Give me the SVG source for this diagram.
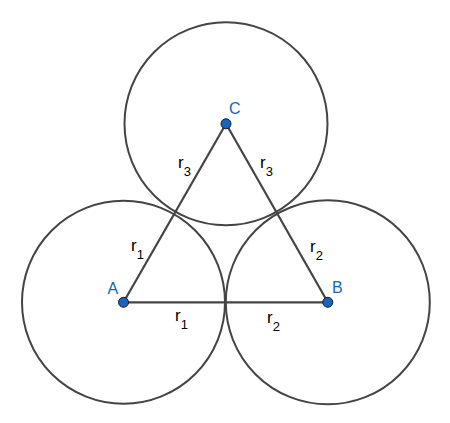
<svg xmlns="http://www.w3.org/2000/svg" width="450" height="423" viewBox="0 0 450 423">
<style>
.c{fill:none;stroke:#444;stroke-width:2}
.s{stroke:#444;stroke-width:2.2;fill:none}
.p{fill:#1565c0;stroke:#1a1a1a;stroke-width:1}
.pl{font-family:"Liberation Sans",Arial,sans-serif;font-size:16px;fill:#1565c0}
.r{font-family:"Liberation Sans",Arial,sans-serif;font-size:17px;fill:#000}
.sub{font-size:13px}
</style>
<rect width="450" height="423" fill="#fff"/>
<g id="circles">
<circle id="circleA" class="c" cx="123.5" cy="302.3" r="101.5"/>
<circle id="circleB" class="c" cx="327.8" cy="302.3" r="102"/>
<circle id="circleC" class="c" cx="226" cy="123.8" r="101.5"/>
</g>
<g id="connectors">
<line class="s" x1="123.5" y1="302.3" x2="327.8" y2="302.3"/>
<line class="s" x1="123.5" y1="302.3" x2="226" y2="123.8"/>
<line class="s" x1="327.8" y1="302.3" x2="226" y2="123.8"/>
</g>
<g id="labels">
<text class="r" x="178" y="168">r<tspan class="sub" dy="8">3</tspan></text>
<text class="r" x="260" y="168">r<tspan class="sub" dy="8">3</tspan></text>
<text class="r" x="131" y="250.5">r<tspan class="sub" dy="8">1</tspan></text>
<text class="r" x="310" y="251.5">r<tspan class="sub" dy="8">2</tspan></text>
<text class="r" x="175" y="320.5">r<tspan class="sub" dy="8">1</tspan></text>
<text class="r" x="267" y="323">r<tspan class="sub" dy="8">2</tspan></text>
</g>
<g id="nodeA">
<circle class="p" cx="123.5" cy="302.3" r="5"/>
<text class="pl" x="107.5" y="294">A</text>
</g>
<g id="nodeB">
<circle class="p" cx="327.8" cy="302.3" r="5"/>
<text class="pl" x="332" y="293">B</text>
</g>
<g id="nodeC">
<circle class="p" cx="226" cy="123.8" r="5"/>
<text class="pl" x="229" y="114">C</text>
</g>
</svg>
